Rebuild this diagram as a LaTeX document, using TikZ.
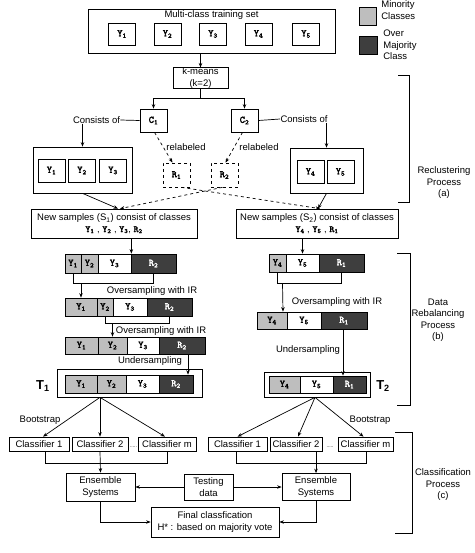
\documentclass[tikz,border=0pt]{standalone}
\usepackage{fontspec}
\setmainfont{Liberation Sans}
\newfontfamily\clsfont{Latin Modern Mono}[FakeBold=2.5]
\usetikzlibrary{arrows.meta}
\definecolor{minorgray}{RGB}{190,190,190}
\definecolor{majorgray}{RGB}{62,62,62}
\newcommand{\clab}[2]{{\clsfont #1\textsubscript{#2}}}

\begin{document}
\begin{tikzpicture}[x=1pt,y=-1pt,line width=0.7pt,
    >={Stealth[length=4.5pt,width=3.5pt]},
    font=\fontsize{9.5}{11.5}\selectfont,
    box/.style={draw,rectangle,inner sep=0pt,align=center},
    cbox/.style={draw,rectangle,minimum width=27,minimum height=22,inner sep=0pt,font=\fontsize{10}{10}\selectfont},
    dbox/.style={cbox,dashed},
    lbl/.style={inner sep=0pt,align=center},
    cell/.style={draw,rectangle,inner sep=0pt,font=\fontsize{10}{10}\selectfont},
    minor/.style={cell,fill=minorgray},
    major/.style={cell,fill=majorgray,text=white},
    plain/.style={cell,fill=white},
    tlbl/.style={inner sep=0pt,font=\fontsize{13}{13}\selectfont\bfseries}]

    \useasboundingbox (0,0) rectangle (474,553);

    % legend
    \draw[fill=minorgray] (359,7) rectangle (376,25);
    \draw[fill=majorgray] (359,36) rectangle (377,54);
    \node[lbl,align=left,anchor=west] (legmin) at (381,10) {Minority\\Classes};
    \node[lbl,align=left,anchor=west] (legmaj) at (383,45) {Over\\Majority\\Class};

    % training set and k-means
    \node[box,minimum width=247,minimum height=44] (train) at (211.5,31) {};
    \node[lbl] (traintxt) at (211.5,15) {Multi-class training set};
    \begin{scope}[every node/.style={cbox}]
        \node (y1) at (122,34) {\clab{Y}{1}};
        \node (y2) at (167.5,34) {\clab{Y}{2}};
        \node (y3) at (213,34) {\clab{Y}{3}};
        \node (y4) at (258.5,34) {\clab{Y}{4}};
        \node (y5) at (306,34) {\clab{Y}{5}};
    \end{scope}
    \node[box,minimum width=55,minimum height=20] (km) at (200.5,78) {k-means\\(k=2)};
    \draw[->] (km.north |- train.south) -- (km.north);

    % clusters
    \node[cbox,minimum height=23] (c1) at (153.5,120.5) {\clab{C}{1}};
    \node[cbox,minimum height=23] (c2) at (244.5,120.5) {\clab{C}{2}};
    \draw[->] (km.south) -- ++(0,10) -| (c1.north);
    \draw[->] (km.south) -- ++(0,10) -| (c2.north);

    \node[lbl] (cons1) at (96.5,120) {Consists of};
    \node[lbl] (cons2) at (304,119) {Consists of};
    \draw (cons1.east) -- (c1.west);
    \draw (c2.east) -- (cons2.west);

    \node[box,minimum width=99,minimum height=46] (grp1) at (82.5,170) {};
    \node[box,minimum width=73,minimum height=45] (grp2) at (326.5,170.5) {};
    \draw[->] (grp1.north |- cons1.south) -- (grp1.north);
    \draw[->] (grp2.north |- cons2.south) -- (grp2.north);
    \begin{scope}[every node/.style={cbox,minimum height=23}]
        \node (g1) at (51.5,170.5) {\clab{Y}{1}};
        \node (g2) at (82,170.5) {\clab{Y}{2}};
        \node (g3) at (113,170.5) {\clab{Y}{3}};
        \node (g4) at (310.5,172) {\clab{Y}{4}};
        \node (g5) at (340.5,172) {\clab{Y}{5}};
    \end{scope}

    % relabeled clusters
    \node[dbox,minimum height=24] (r1) at (176.5,175) {\clab{R}{1}};
    \node[dbox,minimum height=24] (r2) at (224.5,175) {\clab{R}{2}};
    \draw[->,dashed] ([xshift=1]c1.south) -- ([xshift=-4]r1.north);
    \draw[->,dashed] ([xshift=-2]c2.south) -- ([xshift=1]r2.north);
    \node[lbl] (rel1) at (186,147) {relabeled};
    \node[lbl] (rel2) at (259,147) {relabeled};

    % new samples
    \node[box,minimum width=166,minimum height=29] (s1) at (114,223.5)
        {New samples (S\textsubscript{1}) consist of classes\\
         \clab{Y}{1} , \clab{Y}{2} , \clab{Y}{3}, \clab{R}{2}};
    \node[box,minimum width=162,minimum height=29] (s2) at (317,223.5)
        {New samples (S\textsubscript{2}) consist of classes\\
         \clab{Y}{4} , \clab{Y}{5} , \clab{R}{1}};
    \draw[->] (grp1.south) -- ([xshift=4]s1.north);
    \draw[->] (grp2.south) -- ([xshift=1]s2.north);
    \draw[->,dashed] ([xshift=-2]r2.south) -- ([xshift=6]s1.north);
    \draw[->,dashed] ([xshift=5]r1.south) -- ([xshift=3]s2.north);

    % rebalancing, left
    \node[minor,minimum width=16,minimum height=19] (a1) at (73,263.5) {\clab{Y}{1}};
    \node[minor,minimum width=17,minimum height=19] (a2) at (89.5,263.5) {\clab{Y}{2}};
    \node[plain,minimum width=33,minimum height=19] (a3) at (114.5,263.5) {\clab{Y}{3}};
    \node[major,minimum width=45,minimum height=19] (a4) at (153.5,263.5) {\clab{R}{2}};
    \draw[->] (a3.north east |- s1.south) -- (a3.north east);

    \node[minor,minimum width=32,minimum height=18] (b1) at (81,307) {\clab{Y}{1}};
    \node[minor,minimum width=16,minimum height=18] (b2) at (105,307) {\clab{Y}{2}};
    \node[plain,minimum width=34,minimum height=18] (b3) at (130,307) {\clab{Y}{3}};
    \node[major,minimum width=45,minimum height=18] (b4) at (169.5,307) {\clab{R}{2}};
    \draw (a1.south) -- ++(0,10) -| (a4.south);
    \draw[->] (b1.north |- 0,283) -- (b1.north);
    \node[lbl] (over1) at (152,291) {Oversampling with IR};

    \node[minor,minimum width=33,minimum height=17] (e1) at (81.5,345.5) {\clab{Y}{1}};
    \node[minor,minimum width=29,minimum height=17] (e2) at (112.5,345.5) {\clab{Y}{2}};
    \node[plain,minimum width=32,minimum height=17] (e3) at (143,345.5) {\clab{Y}{3}};
    \node[major,minimum width=46,minimum height=17] (e4) at (182,345.5) {\clab{R}{2}};
    \draw (b2.south) -- ++(0,7) -| (b4.south);
    \draw[->] (e2.north |- 0,323) -- (e2.north);
    \node[lbl] (over2) at (161,331) {Oversampling with IR};
    \node[lbl] (under1) at (150,361) {Undersampling};

    \node[box,minimum width=145,minimum height=28] (t1box) at (129.5,383) {};
    \node[minor,minimum width=32,minimum height=18] (f1) at (81,384) {\clab{Y}{1}};
    \node[minor,minimum width=29,minimum height=18] (f2) at (111.5,384) {\clab{Y}{2}};
    \node[plain,minimum width=33,minimum height=18] (f3) at (142.5,384) {\clab{Y}{3}};
    \node[major,minimum width=34,minimum height=18] (f4) at (176,384) {\clab{R}{2}};
    \draw[->] ([xshift=6]e4.south) -- ([xshift=6]e4.south |- f4.north);
    \node[tlbl] (t1lbl) at (43,386) {T\textsubscript{1}};

    % rebalancing, right
    \node[minor,minimum width=17,minimum height=18] (d1) at (277.5,263) {\clab{Y}{4}};
    \node[plain,minimum width=33,minimum height=18] (d2) at (302.5,263) {\clab{Y}{5}};
    \node[major,minimum width=45,minimum height=18] (d3) at (341.5,263) {\clab{R}{1}};
    \draw[->] (d2.north |- s2.south) -- (d2.north);

    \node[minor,minimum width=30,minimum height=17] (h1) at (272,320.5) {\clab{Y}{4}};
    \node[plain,minimum width=34,minimum height=17] (h2) at (304,320.5) {\clab{Y}{5}};
    \node[major,minimum width=46,minimum height=17] (h3) at (344,320.5) {\clab{R}{1}};
    \draw (d1.south) -- ++(0,11) coordinate (dj) -| (d3.south);
    \draw[->] ([xshift=5]dj) -- ([xshift=11]h1.north);
    \node[lbl] (over3) at (337,302) {Oversampling with IR};
    \node[lbl] (under2) at (308,350) {Undersampling};

    \node[box,minimum width=106,minimum height=25] (t2box) at (317,384.5) {};
    \node[minor,minimum width=31,minimum height=17] (k1) at (284.5,384.5) {\clab{Y}{4}};
    \node[plain,minimum width=33,minimum height=17] (k2) at (316.5,384.5) {\clab{Y}{5}};
    \node[major,minimum width=33,minimum height=17] (k3) at (349.5,384.5) {\clab{R}{1}};
    \draw[->] ([xshift=-1]h3.south) -- ([xshift=-1]h3.south |- k3.north);
    \node[tlbl] (t2lbl) at (383,386) {T\textsubscript{2}};

    % classifiers
    \begin{scope}[every node/.style={box,minimum height=14}]
        \node[minimum width=60] (cl1) at (39,444) {Classifier 1};
        \node[minimum width=56] (cl2) at (100,444) {Classifier 2};
        \node[minimum width=58] (clm) at (167,444) {Classifier m};
        \node[minimum width=59] (cr1) at (237.5,444) {Classifier 1};
        \node[minimum width=52] (cr2) at (296,444) {Classifier 2};
        \node[minimum width=55] (crm) at (365.5,444) {Classifier m};
    \end{scope}
    \node[lbl,font=\tiny] (dotl) at (133.5,447) {.....};
    \node[lbl,font=\tiny] (dotr) at (330,447) {.....};

    \draw[->] (cl2.north |- t1box.south) -- ([xshift=4]cl1.north);
    \draw[->] (cl2.north |- t1box.south) -- (cl2.north);
    \draw[->] (cl2.north |- t1box.south) -- ([xshift=-2]clm.north);
    \draw[->] ([xshift=-2]t2box.south) -- (cr1.north);
    \draw[->] ([xshift=-2]t2box.south) -- ([xshift=2]cr2.north);
    \draw[->] ([xshift=-2]t2box.south) -- ([xshift=-2]crm.north);
    \node[lbl] (boot1) at (40,420) {Bootstrap};
    \node[lbl] (boot2) at (370,420) {Bootstrap};

    % ensembles
    \node[box,minimum width=69,minimum height=28] (ensl) at (100.5,487) {Ensemble\\Systems};
    \node[box,minimum width=68,minimum height=27] (ensr) at (316,487) {Ensemble\\Systems};
    \node[box,minimum width=49,minimum height=26] (test) at (208.5,487) {Testing\\data};
    \node[box,minimum width=128,minimum height=30] (final) at (215,522)
        {Final classfication\\H* : based on majority vote};

    \draw ([xshift=6]cl1.south) -- ++(0,12) -| (clm.south);
    \draw[->] (cl2.south) -- (ensl.north);
    \draw ([xshift=-1]cr1.south) -- ++(0,12) -| ([xshift=1]crm.south);
    \draw[->] (ensr.north |- cr2.south) -- (ensr.north);
    \draw[->] (test.west) -- (ensl.east);
    \draw[->] (test.east) -- (ensr.west);
    \draw[->] (ensl.south) |- (final.west);
    \draw[->] (ensr.south) |- (final.east);

    % process brackets
    \draw (398,75) -- (409,75) -- (409,202) -- (398,202);
    \node[lbl] (proca) at (444,183) {Reclustering\\Process\\(a)};
    \draw (397,253) -- (410,253) -- (410,405) -- (397,405);
    \node[lbl] (procb) at (438,320) {Data\\Rebalancing\\Process\\(b)};
    \draw (395,432) -- (412,432) -- (412,533) -- (395,533);
    \node[lbl] (procc) at (443,485) {Classification\\Process\\(c)};

\end{tikzpicture}
\end{document}
